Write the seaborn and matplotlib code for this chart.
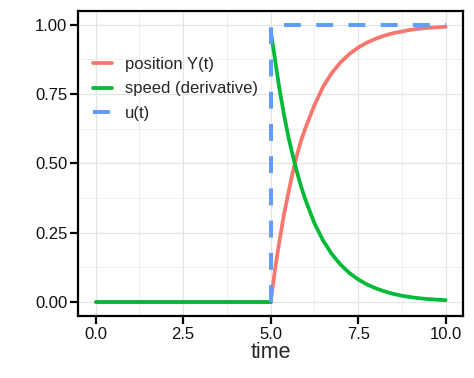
import pandas as pd
import matplotlib.pyplot as plt
import seaborn as sns
from matplotlib.ticker import MultipleLocator

# values
flat_time = [0.0, 5.0]
flat_value = [0.0, 0.0]

rise_time = [5.0, 5.125, 5.25, 5.375, 5.5, 5.625, 5.75, 5.875, 6.0, 6.25, 6.5,
             6.75, 7.0, 7.25, 7.5, 7.75, 8.0, 8.25, 8.5, 8.75, 9.0, 9.25,
             9.5, 9.75, 10.0]
position = [0.0, 0.118, 0.22, 0.312, 0.39, 0.465, 0.53, 0.585, 0.63, 0.71, 0.777,
            0.827, 0.865, 0.895, 0.918, 0.936, 0.95, 0.961, 0.97, 0.976, 0.982,
            0.986, 0.989, 0.991, 0.993]
speed = [0.98, 0.875, 0.77, 0.68, 0.60, 0.532, 0.47, 0.415, 0.367, 0.285, 0.222,
         0.173, 0.135, 0.105, 0.082, 0.064, 0.05, 0.039, 0.03, 0.023, 0.018,
         0.014, 0.011, 0.009, 0.007]

step_time = [5.0, 5.0, 10.0]
step_value = [0.0, 1.0, 1.0]

labels = ["position Y(t)", "speed (derivative)", "u(t)"]
colors = ["#F8766D", "#00BA38", "#619CFF"]

x_ticks = [0.0, 2.5, 5.0, 7.5, 10.0]
y_ticks = [0.0, 0.25, 0.5, 0.75, 1.0]


def make_frame(parts):
    rows = []
    for seg, (ts, vs) in enumerate(parts):
        for t, v in zip(ts, vs):
            rows.append({"seg": seg, "time": t, "value": v})
    return pd.DataFrame(rows)


pos_df = make_frame([(flat_time + rise_time[1:], flat_value + position[1:])])
speed_df = make_frame([(flat_time, flat_value), (rise_time, speed)])
step_df = make_frame([(step_time, step_value)])

sns.set_theme(style="whitegrid")
plt.rcParams["font.family"] = ["Liberation Sans", "DejaVu Sans"]

fig = plt.figure(figsize=(4.74, 3.78), dpi=100)
ax = fig.add_axes([0.165, 0.164, 0.812, 0.807])

sns.lineplot(data=pos_df, x="time", y="value", units="seg", estimator=None,
             sort=False, color=colors[0], linewidth=2.7, label=labels[0], ax=ax)
sns.lineplot(data=speed_df, x="time", y="value", units="seg", estimator=None,
             sort=False, color=colors[1], linewidth=2.7, label=labels[1], ax=ax)
sns.lineplot(data=step_df, x="time", y="value", units="seg", estimator=None,
             sort=False, color=colors[2], linewidth=2.9, label=labels[2], ax=ax)
ax.lines[-1].set_dashes((4.2, 3.8))

ax.set_xlim(-0.5, 10.5)
ax.set_ylim(-0.05, 1.05)
ax.set_xticks(x_ticks)
ax.set_yticks(y_ticks)
ax.set_xticklabels(["0.0", "2.5", "5.0", "7.5", "10.0"])
ax.set_yticklabels(["0.00", "0.25", "0.50", "0.75", "1.00"])
ax.xaxis.set_minor_locator(MultipleLocator(1.25))
ax.yaxis.set_minor_locator(MultipleLocator(0.125))

ax.set_facecolor("white")
ax.grid(which="major", color="#E4E4E4", linewidth=0.9)
ax.grid(which="minor", color="#EFEFEF", linewidth=0.7)
ax.set_axisbelow(True)
for side in ax.spines.values():
    side.set_color("black")
    side.set_linewidth(1.6)

ax.tick_params(which="major", direction="out", length=5.8, width=1.6,
               color="black", labelsize=12, labelcolor="#111111", pad=2,
               bottom=True, left=True)
ax.tick_params(which="minor", length=0)

ax.set_xlabel("time", fontsize=15.5, labelpad=0)
ax.set_ylabel("")

handles, names = ax.get_legend_handles_labels()
unique = dict(zip(names, handles))
ax.legend([unique[n] for n in labels], labels, loc="upper left",
          bbox_to_anchor=(0.039, 0.848), frameon=False,
          fontsize=12, handlelength=1.15, handletextpad=0.75, labelspacing=0.55,
          borderpad=0, borderaxespad=0)

fig.savefig("out.png", dpi=100)
